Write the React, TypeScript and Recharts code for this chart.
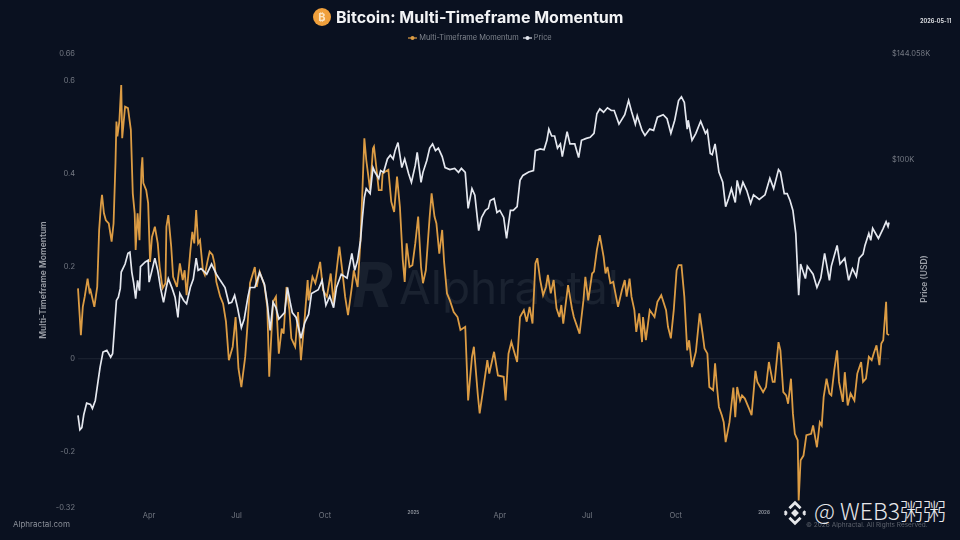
import React from 'react';
import { LineChart, Line, XAxis, YAxis, ReferenceLine, Legend } from 'recharts';

// days counted from 2024-01-18, the first date on the chart
const lastDay = 844;
const xTicks = [74, 165, 257, 349, 439, 530, 622, 714];
const xLabels = ['Apr', 'Jul', 'Oct', '2025', 'Apr', 'Jul', 'Oct', '2026'];

const momentumTicks = [0.66, 0.6, 0.4, 0.2, 0, -0.2, -0.32];
const priceTicks = [100000, 144058];

const momentumDays = [
  0, 3, 5, 7, 10, 12, 13, 17, 20, 22, 24, 25, 27, 29, 32, 35, 37, 39, 40, 41, 43, 45, 46, 49, 52, 55, 57, 59, 60, 62,
  64, 66, 67, 68, 71, 73, 75, 77, 80, 83, 85, 88, 91, 92, 94, 97, 99, 103, 106, 109, 111, 113, 117, 119, 121, 123, 125, 127, 130, 132,
  135, 137, 140, 142, 144, 148, 151, 154, 157, 161, 164, 167, 170, 174, 177, 179, 184, 186, 189, 194, 197, 199, 203, 206, 209, 212, 214, 217, 220, 222,
  226, 229, 232, 236, 239, 240, 244, 247, 252, 255, 259, 263, 266, 268, 272, 275, 278, 281, 285, 287, 291, 294, 296, 298, 300, 304, 307, 308, 310, 313,
  316, 317, 320, 323, 326, 329, 332, 335, 338, 340, 342, 345, 348, 351, 354, 357, 359, 362, 366, 368, 371, 373, 376, 379, 381, 384, 387, 391, 395, 398,
  403, 406, 410, 412, 416, 418, 422, 426, 428, 433, 437, 443, 445, 448, 451, 457, 460, 464, 467, 470, 473, 476, 478, 481, 484, 487, 489, 492, 495, 498,
  501, 503, 505, 508, 510, 514, 516, 519, 522, 526, 528, 531, 535, 537, 540, 543, 547, 549, 551, 554, 557, 562, 566, 569, 571, 574, 576, 579, 581, 584,
  587, 588, 591, 595, 600, 603, 607, 612, 614, 617, 620, 623, 625, 628, 631, 634, 636, 639, 643, 647, 650, 652, 655, 657, 661, 663, 665, 667, 670, 672,
  674, 678, 682, 684, 686, 689, 691, 694, 699, 701, 705, 707, 713, 716, 719, 723, 725, 729, 731, 734, 737, 739, 742, 744, 746, 749, 750, 752, 755, 758,
  763, 765, 769, 772, 774, 776, 779, 782, 784, 787, 790, 792, 796, 798, 801, 804, 808, 811, 815, 817, 820, 823, 826, 828, 831, 834, 836, 838, 841, 842, 844,
];
const momentumValues = [
  0.152, 0.051, 0.112, 0.134, 0.173, 0.144, 0.148, 0.112, 0.155, 0.278, 0.336, 0.354, 0.314, 0.299, 0.292, 0.253, 0.292, 0.422, 0.512, 0.48, 0.512, 0.591, 0.476, 0.544, 0.541, 0.494, 0.357, 0.314, 0.235, 0.314,
  0.256, 0.408, 0.435, 0.379, 0.364, 0.336, 0.209, 0.263, 0.285, 0.249, 0.198, 0.152, 0.163, 0.285, 0.31, 0.242, 0.177, 0.155, 0.206, 0.17, 0.191, 0.137, 0.235, 0.274, 0.249, 0.321, 0.249, 0.256, 0.191, 0.181,
  0.213, 0.231, 0.224, 0.206, 0.166, 0.134, 0.119, 0.08, -0.003, 0.026, 0.09, -0.021, -0.061, 0.004, 0.09, 0.163, 0.198, 0.155, 0.188, 0.159, 0.112, -0.039, 0.123, 0.134, 0.011, 0.065, 0.054, 0.155, 0.105, 0.044,
  0.026, 0.101, -0.003, 0.09, 0.17, 0.126, 0.177, 0.163, 0.209, 0.148, 0.134, 0.184, 0.119, 0.17, 0.242, 0.191, 0.134, 0.094, 0.155, 0.191, 0.155, 0.256, 0.364, 0.476, 0.429, 0.364, 0.454, 0.458, 0.422, 0.364,
  0.364, 0.4, 0.404, 0.408, 0.339, 0.317, 0.393, 0.328, 0.213, 0.166, 0.249, 0.198, 0.202, 0.249, 0.307, 0.198, 0.163, 0.191, 0.307, 0.357, 0.307, 0.292, 0.227, 0.278, 0.209, 0.141, 0.126, 0.101, 0.09, 0.062,
  0.069, -0.09, 0.004, 0.026, -0.076, -0.118, -0.061, -0.003, -0.032, 0.015, -0.036, -0.039, -0.09, 0.011, 0.036, -0.007, 0.09, 0.105, 0.08, 0.112, 0.076, 0.206, 0.217, 0.17, 0.137, 0.155, 0.181, 0.141, 0.17, 0.109,
  0.09, 0.116, 0.076, 0.126, 0.159, 0.109, 0.09, 0.072, 0.054, 0.126, 0.177, 0.126, 0.184, 0.188, 0.235, 0.267, 0.22, 0.184, 0.198, 0.163, 0.166, 0.112, 0.148, 0.17, 0.134, 0.173, 0.134, 0.105, 0.058, 0.098,
  0.036, 0.09, 0.04, 0.105, 0.09, 0.123, 0.137, 0.105, 0.069, 0.044, 0.105, 0.191, 0.202, 0.202, 0.134, 0.018, 0.04, -0.018, 0.015, 0.098, 0.054, 0.022, 0.011, -0.061, -0.068, -0.01, -0.061, -0.104, -0.122, -0.137,
  -0.18, -0.137, -0.062, -0.126, -0.061, -0.09, -0.079, -0.086, -0.111, -0.122, -0.026, -0.05, -0.072, -0.061, -0.007, -0.05, -0.05, 0.036, 0.018, -0.072, -0.079, -0.097, -0.043, -0.118, -0.162, -0.176, -0.306, -0.219, -0.209, -0.165,
  -0.162, -0.144, -0.191, -0.137, -0.144, -0.083, -0.043, -0.075, -0.079, -0.025, 0.018, -0.05, -0.093, -0.029, -0.101, -0.075, -0.09, -0.032, -0.007, -0.05, -0.043, 0.004, -0.003, 0.011, 0.029, -0.014, 0.033, 0.04, 0.123, 0.054, 0.051,
];

const priceDays = [
  0, 2, 4, 6, 9, 13, 15, 18, 21, 23, 26, 30, 34, 36, 38, 40, 42, 44, 45, 49, 52, 54, 56, 58, 60, 62, 64, 65, 70, 73,
  74, 77, 80, 83, 86, 89, 92, 94, 98, 101, 104, 106, 110, 113, 117, 120, 123, 125, 128, 132, 134, 139, 144, 148, 153, 157, 160, 163, 166, 170,
  173, 177, 179, 184, 189, 194, 197, 200, 203, 206, 209, 215, 218, 221, 223, 227, 232, 236, 240, 243, 250, 254, 258, 262, 266, 269, 274, 280, 285, 288,
  291, 294, 296, 298, 300, 304, 307, 309, 313, 315, 318, 322, 325, 328, 330, 333, 337, 340, 344, 347, 351, 353, 357, 359, 363, 366, 369, 372, 375, 379,
  382, 387, 392, 396, 399, 403, 406, 410, 413, 417, 420, 424, 427, 429, 433, 436, 439, 443, 446, 450, 453, 457, 460, 463, 469, 474, 476, 481, 485, 488,
  490, 493, 496, 499, 502, 504, 509, 512, 517, 521, 524, 529, 533, 537, 540, 543, 547, 551, 555, 558, 563, 569, 573, 576, 580, 582, 587, 590, 595, 599,
  603, 609, 613, 617, 621, 625, 628, 631, 634, 635, 639, 643, 648, 653, 655, 658, 660, 663, 667, 671, 674, 677, 680, 684, 686, 689, 692, 696, 700, 703,
  709, 715, 720, 724, 729, 731, 735, 738, 741, 744, 747, 750, 752, 757, 759, 765, 769, 773, 777, 782, 784, 790, 793, 798, 802, 806, 810, 813, 817, 819,
  823, 825, 827, 833, 838, 841, 843, 844,
];
const priceValues = [
  41600, 39600, 39900, 41700, 43400, 43200, 42600, 43800, 46900, 49100, 51700, 52000, 50800, 51400, 56200, 61700, 62400, 64300, 68000, 69900, 72500, 72800, 68000, 65400, 62100, 66100, 63800, 69300, 70400, 70800,
  65700, 68400, 71300, 68400, 64300, 61300, 64600, 66500, 64300, 62400, 58200, 63200, 61700, 61000, 64600, 66400, 71300, 68400, 68800, 68000, 67500, 69900, 67500, 66100, 64500, 61100, 61300, 62800, 60200, 56200,
  57900, 62600, 64500, 64500, 67900, 65200, 61100, 55700, 61300, 60200, 57900, 59200, 64500, 61100, 59200, 58200, 54200, 57200, 58800, 63200, 64000, 66100, 60700, 62600, 60200, 64500, 67500, 66600, 72500, 68400,
  70800, 75800, 82000, 87800, 90500, 89000, 97300, 95800, 93700, 96300, 95700, 100200, 101500, 100200, 103100, 106000, 97300, 100200, 95300, 92500, 98000, 102500, 92500, 95700, 99700, 104000, 105500, 103100, 104000, 101000,
  97300, 96600, 97000, 95700, 97000, 95700, 84600, 90500, 88500, 78400, 82000, 84000, 84600, 86900, 87500, 83400, 84000, 82000, 76300, 84000, 84000, 85100, 93100, 94700, 95800, 96300, 103100, 103700, 103400, 106800,
  111000, 108400, 108400, 104000, 105500, 101000, 110000, 105500, 105500, 100700, 106800, 107500, 107900, 109400, 117000, 119000, 117600, 119400, 118300, 118300, 112900, 116600, 122400, 118000, 112900, 116200, 110500, 108600, 111000, 110500,
  115600, 116600, 115000, 109400, 114400, 122400, 124000, 121600, 111000, 114400, 106800, 109400, 114000, 109400, 110500, 102100, 101700, 105500, 95800, 92500, 85100, 87500, 90500, 86300, 93100, 89300, 92500, 89900, 86000, 88600,
  87200, 88600, 93800, 90500, 96600, 95800, 89000, 89000, 86900, 84000, 77600, 62800, 69900, 66500, 69400, 67500, 64500, 66600, 72500, 66100, 69400, 74500, 69900, 71300, 66100, 68800, 67000, 71300, 72300, 74500,
  77600, 75800, 79000, 76300, 79000, 80800, 79500, 80600,
];

const momentumData = momentumDays.map((day, i) => ({ day, momentum: momentumValues[i] }));
const priceData = priceDays.map((day, i) => ({ day, price: priceValues[i] }));

const ORANGE = '#dc9c44';
const WHITE = '#e4e7ee';
const MUTED = '#747983';
const FONT = 'Inter, "Liberation Sans", sans-serif';

const formatMomentum = (v: number) => String(v);
const formatPrice = (v: number) => (v === 100000 ? '$100K' : '$144.058K');

// year ticks are tiny and bold on the original, months are plain
const TimeTick = ({ x, y, index }: any) => {
  const label = xLabels[index];
  const isYear = label.length === 4;
  return (
    <text
      x={x}
      y={isYear ? y - 2 : y + 1}
      textAnchor="middle"
      dominantBaseline="middle"
      fontFamily={FONT}
      fontSize={isYear ? 4.5 : 7.5}
      fontWeight={isYear ? 700 : 400}
      fill={isYear ? '#8f949d' : MUTED}
    >
      {label}
    </text>
  );
};

const LegendRow = ({ payload }: any) => (
  <div style={{ display: 'flex', justifyContent: 'center', alignItems: 'center', gap: 4, fontSize: 7.4, color: '#7f848d', fontFamily: FONT }}>
    {(payload || []).map((entry: any) => (
      <span key={entry.value} style={{ display: 'flex', alignItems: 'center', gap: 2 }}>
        <svg width={9} height={6}>
          <line x1={0} y1={3} x2={9} y2={3} stroke={entry.color} strokeWidth={1.2} />
          <circle cx={4.5} cy={3} r={2} fill={entry.color} />
        </svg>
        {entry.value}
      </span>
    ))}
  </div>
);

const overlay = (style: React.CSSProperties): React.CSSProperties => ({
  position: 'absolute',
  whiteSpace: 'nowrap',
  fontFamily: FONT,
  ...style,
});

export default function App() {
  return (
    <div style={{ position: 'fixed', left: 0, top: 0, width: 960, height: 540, background: '#0a1120', overflow: 'hidden' }}>
      <div style={{ position: 'absolute', left: 0, top: 0, width: 960, height: 540, filter: 'blur(0.6px)' }}>
        {/* Watermark sits under the lines */}
        <div style={overlay({ left: 352, top: 250, fontSize: 62, fontWeight: 700, fontStyle: 'italic', color: '#18202e', lineHeight: '70px' })}>R</div>
        <div style={overlay({ left: 399, top: 259, fontSize: 46, color: '#1a2230', lineHeight: '56px' })}>Alphractal</div>

        <LineChart width={960} height={540} margin={{ top: 41, right: 11, bottom: 13, left: 38 }} style={{ position: 'absolute', left: 0, top: 0 }}>
          <XAxis
            dataKey="day"
            type="number"
            domain={[0, lastDay]}
            ticks={xTicks}
            interval={0}
            axisLine={false}
            tickLine={false}
            height={20}
            tick={<TimeTick />}
            allowDuplicatedCategory={false}
          />
          <YAxis
            yAxisId="left"
            width={40}
            domain={[-0.32, 0.66]}
            ticks={momentumTicks}
            interval={0}
            tickFormatter={formatMomentum}
            axisLine={false}
            tickLine={false}
            tickMargin={0}
            tick={{ fontSize: 7.5, fill: MUTED, fontFamily: FONT, dx: 3 }}
          />
          <YAxis
            yAxisId="right"
            orientation="right"
            width={60}
            scale="log"
            domain={[30400, 144058]}
            allowDataOverflow
            ticks={priceTicks}
            interval={0}
            tickFormatter={formatPrice}
            axisLine={false}
            tickLine={false}
            tickMargin={0}
            tick={{ fontSize: 7.5, fill: MUTED, fontFamily: FONT, dx: -3 }}
          />
          <ReferenceLine yAxisId="left" y={0} stroke="#1f2633" strokeWidth={1} />
          <Legend
            verticalAlign="top"
            content={<LegendRow />}
            wrapperStyle={{ position: 'absolute', left: 0, top: 33, width: 960, height: 12 }}
          />
          <Line
            yAxisId="left"
            data={momentumData}
            dataKey="momentum"
            name="Multi-Timeframe Momentum"
            type="linear"
            stroke={ORANGE}
            strokeWidth={1.8}
            dot={false}
            isAnimationActive={false}
          />
          <Line
            yAxisId="right"
            data={priceData}
            dataKey="price"
            name="Price"
            type="linear"
            stroke={WHITE}
            strokeWidth={1.7}
            dot={false}
            isAnimationActive={false}
          />
        </LineChart>

        {/* Title block */}
        <svg width={20} height={20} style={{ position: 'absolute', left: 312, top: 7 }}>
          <circle cx={10} cy={10} r={9} fill="#f0a03c" />
          <text x={10} y={14} textAnchor="middle" fontSize={11} fontWeight={700} fill="#fbe3c0" fontFamily={FONT}>₿</text>
        </svg>
        <div style={overlay({ left: 336, top: 7, fontSize: 16, fontWeight: 700, color: '#f2f3f5', lineHeight: '20px' })}>Bitcoin: Multi-Timeframe Momentum</div>
        <div style={overlay({ left: 920, top: 17, fontSize: 5.5, fontWeight: 700, color: '#d8dade', lineHeight: '8px' })}>2026-05-11</div>

        {/* Axis titles */}
        <div style={overlay({ left: 43, top: 280, fontSize: 8.5, fontWeight: 600, color: '#9a9ea6', transform: 'translate(-50%,-50%) rotate(-90deg)' })}>Multi-Timeframe Momentum</div>
        <div style={overlay({ left: 924, top: 279, fontSize: 8.5, fontWeight: 600, color: '#9a9ea6', transform: 'translate(-50%,-50%) rotate(-90deg)' })}>Price (USD)</div>

        {/* Footer */}
        <div style={overlay({ left: 13, top: 519, fontSize: 8, color: '#8b9099', lineHeight: '10px' })}>Alphractal.com</div>
        <div style={overlay({ left: 806, top: 522, fontSize: 6.5, color: '#5d626c', lineHeight: '6px' })}>© 2026 Alphractal. All Rights Reserved.</div>
      </div>

      {/* Repost stamp */}
      <svg width={26} height={26} viewBox="0 0 28 28" style={{ position: 'absolute', left: 782, top: 500 }}>
        <g fill="none" stroke="#e6e7ea" strokeWidth={3}>
          <path d="M8 9 L14 3 L20 9" />
          <path d="M8 19 L14 25 L20 19" />
          <path d="M3 14 L5 12 M3 14 L5 16 M25 14 L23 12 M25 14 L23 16" />
        </g>
        <rect x={11} y={11} width={6} height={6} fill="#e6e7ea" transform="rotate(45 14 14)" />
      </svg>
      <div style={overlay({ left: 814, top: 500, fontSize: 23, color: '#e6e7ea', lineHeight: '21px', fontFamily: '"Noto Sans CJK SC", "Noto Sans", sans-serif', fontWeight: 300 })}>@ WEB3粥粥</div>
    </div>
  );
}
